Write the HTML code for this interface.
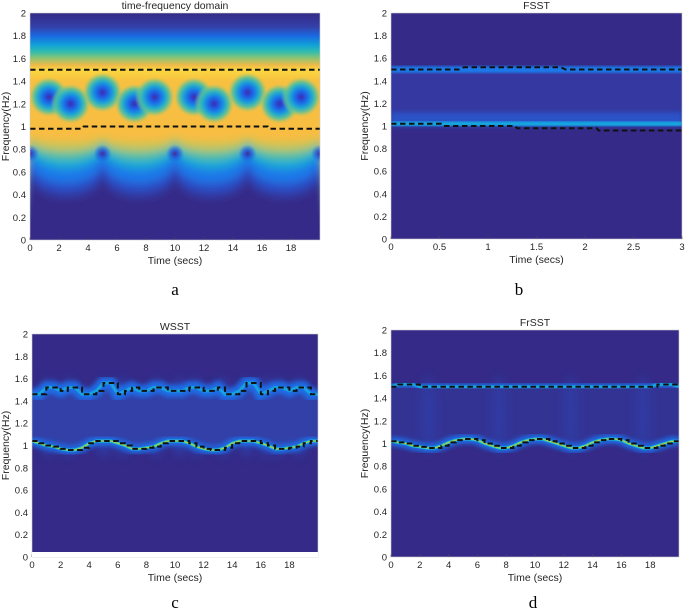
<!DOCTYPE html>
<html><head><meta charset="utf-8">
<style>
html,body{margin:0;padding:0;background:#fff;}
svg{display:block;font-family:"Liberation Sans",sans-serif;}
.tk{font-size:9.5px;fill:#262626;}
.lab{font-size:10.5px;fill:#262626;}
.cap{font-family:"Liberation Serif",serif;font-size:17px;fill:#000;}
</style></head>
<body>
<svg id="fig" width="685" height="610" viewBox="0 0 685 610">
<defs>
<filter id="blur2" x="-20%" y="-50%" width="140%" height="200%"><feGaussianBlur stdDeviation="2.5"/></filter>
<filter id="blur4" x="-20%" y="-50%" width="140%" height="200%"><feGaussianBlur stdDeviation="4"/></filter>
<filter id="blur1"><feGaussianBlur stdDeviation="1"/></filter>
<filter id="blur6" x="-50%" y="-50%" width="200%" height="200%"><feGaussianBlur stdDeviation="5"/></filter>
<radialGradient id="hole">
<stop offset="0" stop-color="#5a2a90"/><stop offset="0.1" stop-color="#2a40d0"/><stop offset="0.35" stop-color="#1a78e8"/><stop offset="0.55" stop-color="#20a8d0"/><stop offset="0.75" stop-color="#50c0a0" stop-opacity="0.85"/><stop offset="1" stop-color="#a8c868" stop-opacity="0"/>
</radialGradient>
<radialGradient id="dip">
<stop offset="0" stop-color="#4a2a90"/><stop offset="0.4" stop-color="#2450d8" stop-opacity="0.8"/><stop offset="1" stop-color="#1a68e0" stop-opacity="0"/>
</radialGradient>
<linearGradient id="tfbg" x1="0" y1="0" x2="0" y2="1">
<stop offset="0" stop-color="#352a87"/>
<stop offset="0.06" stop-color="#3440a8"/>
<stop offset="0.1" stop-color="#1a68e0"/>
<stop offset="0.14" stop-color="#10a0d8"/>
<stop offset="0.17" stop-color="#30bcb0"/>
<stop offset="0.2" stop-color="#90c470"/>
<stop offset="0.23" stop-color="#f0ba48"/>
<stop offset="0.25" stop-color="#fad840"/>
<stop offset="0.3" stop-color="#f8c040"/>
<stop offset="1" stop-color="#f8b848"/>
</linearGradient>
</defs>
<g id="root"></g>
</svg>
<script>
// ---- data ----
const yTicks = [0,0.2,0.4,0.6,0.8,1,1.2,1.4,1.6,1.8,2];
const yTickLabels = ["0","0.2","0.4","0.6","0.8","1","1.2","1.4","1.6","1.8","2"];
const xTicksLong = [0,2,4,6,8,10,12,14,16,18];
const xTicksShort = [0,0.5,1,1.5,2,2.5,3];
const xTicksShortLabels = ["0","0.5","1","1.5","2","2.5","3"];

const aUpperT = [0,20];
const aUpperF = [1.5,1.5];
const aLowerT = [0,3.6,3.7,16.4,16.5,20];
const aLowerF = [0.98,0.98,1.0,1.0,0.98,0.98];
const aHoleT = [1.3,2.8,5,7.2,8.6,11.3,12.7,15,17.2,18.7];
const aHoleF = [1.26,1.2,1.3,1.2,1.26,1.26,1.2,1.3,1.2,1.26];
const aDipT = [0,5,10,15,20];

const bUpperT = [0,0.7,0.75,1.75,1.8,3];
const bUpperF = [1.5,1.5,1.52,1.52,1.5,1.5];
const bLowerT = [0,0.52,0.54,1.28,1.3,2.12,2.14,3];
const bLowerF = [1.02,1.02,1.0,1.0,0.98,0.98,0.96,0.96];

const stepT = [0,0.5,1,1.5,2,2.5,3,3.5,4,4.5,5,5.5,6,6.5,7,7.5,8,8.5,9,9.5,10,10.5,11,11.5,12,12.5,13,13.5,14,14.5,15,15.5,16,16.5,17,17.5,18,18.5,19,19.5,20];
const cLowerF = [1.04,1.02,1.0,0.99,0.97,0.96,0.96,0.98,1.02,1.04,1.04,1.04,1.02,1.0,0.97,0.97,0.98,0.99,1.02,1.04,1.04,1.04,1.02,0.99,0.97,0.96,0.96,0.98,1.02,1.04,1.04,1.04,1.02,1.0,0.97,0.97,0.98,0.99,1.02,1.04,1.04];
const cUpperF = [1.46,1.46,1.52,1.52,1.49,1.52,1.52,1.46,1.46,1.49,1.56,1.56,1.46,1.49,1.52,1.49,1.49,1.52,1.52,1.49,1.49,1.49,1.52,1.52,1.49,1.49,1.52,1.46,1.46,1.49,1.56,1.56,1.46,1.49,1.52,1.52,1.49,1.52,1.52,1.46,1.46];
const cSpikeT = [1.2,2.6,5,6.3,8.7,10.3,11.5,13.3,15,16.3,17.2,18.7];
const dLowerF = [1.02,1.01,1.0,0.98,0.97,0.96,0.96,0.98,1.01,1.03,1.04,1.04,1.03,1.0,0.98,0.96,0.96,0.98,1.01,1.03,1.04,1.04,1.02,1.0,0.98,0.96,0.96,0.98,1.01,1.03,1.04,1.04,1.03,1.0,0.98,0.96,0.96,0.98,1.0,1.02,1.02];
const dUpperF = [1.5,1.52,1.52,1.52,1.5,1.5,1.5,1.5,1.5,1.5,1.5,1.5,1.5,1.5,1.5,1.5,1.5,1.5,1.5,1.5,1.5,1.5,1.5,1.5,1.5,1.5,1.5,1.5,1.5,1.5,1.5,1.5,1.5,1.5,1.5,1.5,1.5,1.52,1.52,1.52,1.5];
const dSpikeT = [2.6,7.5,12.5,17.5];

// ---- drawing ----
const NS = "http://www.w3.org/2000/svg";
const root = document.getElementById('root');
function mk(tag, attrs, parent){
  const e = document.createElementNS(NS, tag);
  for (const k in attrs) e.setAttribute(k, attrs[k]);
  (parent||root).appendChild(e);
  return e;
}
function scales(p){
  return {
    x: t => p.x0 + (t - 0) / p.xmax * (p.x1 - p.x0),
    y: f => p.y1 - f / 2 * (p.y1 - p.y0)
  };
}
function stepEnd(s,T,F){
  let d="";
  for (let i=0;i<T.length;i++){
    const xa=s.x(T[i]), ya=s.y(F[i]);
    const xb = i<T.length-1 ? s.x(T[i+1]) : s.x(T[i]);
    d += (i===0?"M":" L")+xa+","+ya+" L"+xb+","+ya;
  }
  return d;
}
function linePath(s,T,F){
  return T.map((t,i)=>(i?"L":"M")+s.x(t)+","+s.y(F[i])).join(" ");
}

function axes(p, g, xt, xtl, name){
  const s = scales(p);
  const ax = mk('g',{},g);
  
  
  mk('rect',{x:p.x0,y:p.y0,width:p.x1-p.x0,height:p.y1-p.y0,fill:'none',stroke:'#ccc','stroke-width':0.6},ax);
  yTicks.forEach((v,i)=>{
    const t = mk('text',{x:p.x0-4,y:s.y(v)+3.5,'text-anchor':'end',class:'tk'},ax);
    t.textContent = yTickLabels[i];
    
    
  });
  xt.forEach((v,i)=>{
    mk('line',{x1:s.x(v),x2:s.x(v),y1:p.y1,y2:p.y1-2.5,stroke:'#555','stroke-width':0.6},ax);
    const t = mk('text',{x:s.x(v),y:p.y1+11,'text-anchor':'middle',class:'tk'},ax);
    t.textContent = xtl ? xtl[i] : String(v);
    
    
  });
  const xl = mk('text',{x:(p.x0+p.x1)/2,y:p.y1+24,'text-anchor':'middle',class:'lab'},ax);
  xl.textContent = "Time (secs)";
  
  
  const yc=(p.y0+p.y1)/2;
  const yl = mk('text',{x:p.ylx,y:yc,'text-anchor':'middle',class:'lab',transform:'rotate(-90 '+p.ylx+' '+yc+')'},ax);
  yl.textContent = "Frequency(Hz)";
  
  
  const ti = mk('text',{x:(p.x0+p.x1)/2,y:p.y0-4,'text-anchor':'middle',class:'lab'},ax);
  ti.textContent = p.title;
  
  
  const cp = mk('text',{x:p.capx,y:p.capy,'text-anchor':'middle',class:'cap'},ax);
  cp.textContent = p.cap;
  
  
}
function dashed(g,d){
  const l = mk('path',{d:d,fill:'none',stroke:'#111','stroke-width':2,'stroke-dasharray':'5.5 3.5'},g);
  
  
}
function clip(id,p){
  const c = mk('clipPath',{id:id},document.querySelector('defs'));
  mk('rect',{x:p.x0,y:p.y0,width:p.x1-p.x0,height:p.y1-p.y0},c);
}

// Panel A
const pA = {x0:30,x1:320,y0:13,y1:240,xmax:20,title:"time-frequency domain",ylx:9,cap:"a",capx:175,capy:295};
(function(){
  const s = scales(pA);
  clip('ca',pA);
  const g = mk('g',{});  
  const h = mk('g',{'clip-path':'url(#ca)'},g);
  const hm = mk('rect',{x:pA.x0,y:pA.y0,width:pA.x1-pA.x0,height:pA.y1-pA.y0,fill:'url(#tfbg)'},h);
   
  // scalloped lower bands: [value at mid, value at dip, colour]
  const bands = [[0.86,0.92,'#c8c458'],[0.78,0.88,'#58c0a0'],[0.7,0.86,'#18a8d8'],[0.62,0.8,'#1a78e8'],[0.5,0.7,'#2a50c8'],[0.42,0.62,'#3138a0'],[0.36,0.56,'#352a87']];
  const bg = mk('g',{filter:'url(#blur4)'},h);
  bands.forEach(b=>{
    let d = "M"+(pA.x0-10)+","+(pA.y1+10);
    for (let k=0;k<=200;k++){
      const t = k/10;
      let m = 99; aDipT.forEach(c=>{m=Math.min(m,Math.abs(t-c));});
      const u = Math.min(m/2.5,1);
      const f = b[0] + (b[1]-b[0])*(1-Math.sqrt(1-(1-u)*(1-u)));
      d += " L"+s.x(t)+","+s.y(f);
    }
    d += " L"+(pA.x1+10)+","+(pA.y1+10)+" Z";
    mk('path',{d:d,fill:b[2]},bg);
  });
  aDipT.forEach(t=>{ mk('circle',{cx:s.x(t),cy:s.y(0.76),r:9,fill:'url(#dip)'},h); });
  aHoleT.forEach((t,i)=>{
    const c = mk('circle',{cx:s.x(t),cy:s.y(aHoleF[i]),r:20,fill:'url(#hole)'},h);
     
  });
  dashed(h,linePath(s,aUpperT,aUpperF));
  dashed(h,linePath(s,aLowerT,aLowerF));
  axes(pA,g,xTicksLong,null,'panel-a');
})();

// Panel B
const pB = {x0:391,x1:682,y0:13,y1:239,xmax:3,title:"FSST",ylx:368,cap:"b",capx:519,capy:295};
(function(){
  const s = scales(pB);
  clip('cb',pB);
  const g = mk('g',{});  
  const h = mk('g',{'clip-path':'url(#cb)'},g);
  mk('rect',{x:pB.x0,y:pB.y0,width:pB.x1-pB.x0,height:pB.y1-pB.y0,fill:'#352a87'},h);
  mk('rect',{x:pB.x0,y:s.y(1.5),width:pB.x1-pB.x0,height:s.y(1.0)-s.y(1.5),fill:'#3438a0'},h);
  mk('rect',{x:pB.x0,y:s.y(1.12),width:pB.x1-pB.x0,height:s.y(1.0)-s.y(1.12),fill:'#2a52c8',filter:'url(#blur2)'},h);
  mk('rect',{x:pB.x0,y:s.y(1.53),width:pB.x1-pB.x0,height:s.y(1.47)-s.y(1.53),fill:'#1a78e8',filter:'url(#blur1)'},h);
  mk('rect',{x:pB.x0,y:s.y(1.04),width:pB.x1-pB.x0,height:s.y(1.0)-s.y(1.04),fill:'#18a8e0',filter:'url(#blur1)'},h);
  dashed(h,linePath(s,bUpperT,bUpperF));
  dashed(h,linePath(s,bLowerT,bLowerF));
  axes(pB,g,xTicksShort,xTicksShortLabels,'panel-b');
})();

function sstPanel(p,id,lowF,upF,spikes,upGlow){
  const s = scales(p);
  clip(id,p);
  const g = mk('g',{});  
  const h = mk('g',{'clip-path':'url(#'+id+')'},g);
  mk('rect',{x:p.x0,y:p.y0,width:p.x1-p.x0,height:p.y1-p.y0,fill:'#352a87'},h);
  const sp = mk('g',{filter:'url(#blur6)',opacity:0.5*upGlow+0.2},h);
  spikes.forEach(t=>{
    mk('ellipse',{cx:s.x(t),cy:s.y(1.25),rx:7,ry:(s.y(1.0)-s.y(1.7))/2,fill:'#2850c8'},sp);
  });
  mk('rect',{x:p.x0,y:s.y(1.5),width:p.x1-p.x0,height:s.y(1.0)-s.y(1.5),fill:'#3240a8',opacity:upGlow},h);
  const lo = linePath(s,stepT,lowF), up = linePath(s,stepT,upF);
  mk('path',{d:lo,fill:'none',stroke:'#1e6ee8','stroke-width':9,filter:'url(#blur2)'},h);
  mk('path',{d:up,fill:'none',stroke:'#1e6ee8','stroke-width':9*upGlow+3,filter:'url(#blur2)'},h);
  mk('path',{d:lo,fill:'none',stroke:'#20c0d0','stroke-width':3},h);
  mk('path',{d:up,fill:'none',stroke:'#18a0e0','stroke-width':3},h);
  mk('path',{d:lo,fill:'none',stroke:'#b0d040','stroke-width':1},h);
  dashed(h,stepEnd(s,stepT,upF));
  dashed(h,stepEnd(s,stepT,lowF));
  axes(p,g,xTicksLong,null,'panel-'+p.cap);
}
const pC = {x0:32,x1:318,y0:334,y1:557,xmax:20,title:"WSST",ylx:9,cap:"c",capx:175,capy:608};
const pD = {x0:391,x1:679,y0:330,y1:557,xmax:20,title:"FrSST",ylx:368,cap:"d",capx:533,capy:608};
sstPanel(pC,'cc',cLowerF,cUpperF,cSpikeT,1);
sstPanel(pD,'cd',dLowerF,dUpperF,dSpikeT,0.4);
const ws = mk('rect',{x:pC.x0,y:552,width:pC.x1-pC.x0,height:5,fill:'#fff'});
 
</script>
</body></html>
